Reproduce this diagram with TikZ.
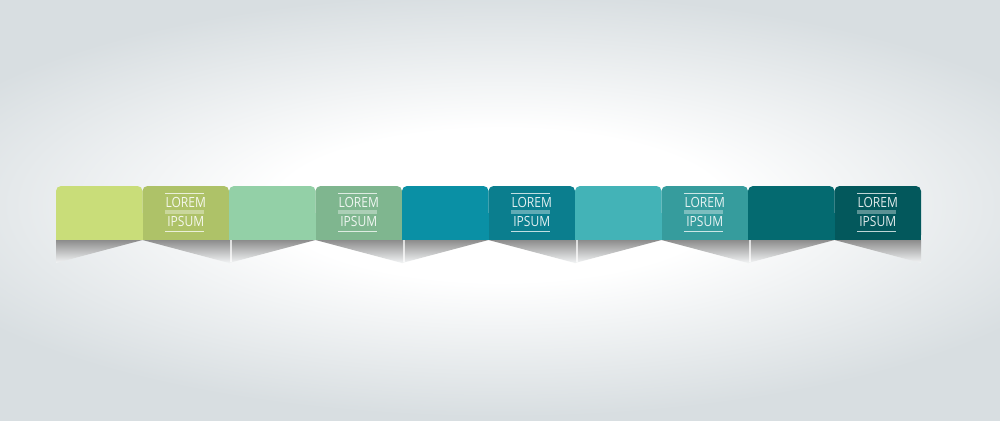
\documentclass[tikz,border=0pt]{standalone}
\usepackage{fontspec}
\setmainfont{Open Sans}
\newfontfamily\tabfont[FakeStretch=0.86]{Open Sans}
\usepackage{xcolor}
\usetikzlibrary{positioning,calc}
\definecolor{bgray}{HTML}{D8DEE1}
\definecolor{tabA}{HTML}{C9DD79}
\definecolor{tabB}{HTML}{AEC268}
\definecolor{tabC}{HTML}{93D0A7}
\definecolor{tabD}{HTML}{7FB68F}
\definecolor{tabE}{HTML}{0A90A5}
\definecolor{tabF}{HTML}{0B7E8E}
\definecolor{tabG}{HTML}{43B3B7}
\definecolor{tabH}{HTML}{369C9D}
\definecolor{tabI}{HTML}{046A70}
\definecolor{tabJ}{HTML}{03585C}
\pgfdeclareradialshading{glow}{\pgfpoint{0bp}{0bp}}{color(0bp)=(white); color(9bp)=(white); color(25bp)=(bgray); color(50bp)=(bgray)}

\begin{document}
\begin{tikzpicture}[x=1pt,y=-1pt,font=\tabfont\fontsize{14}{14}\selectfont]
\tikzstyle{tab}=[rounded corners=5pt,minimum width=86.5pt,minimum height=54pt,inner sep=0pt,outer sep=0pt]
\tikzstyle{word}=[text=white,text opacity=0.88,inner sep=0pt]
\tikzstyle{rule}=[white,opacity=0.75,line width=0.9pt]
\tikzstyle{bar}=[white,opacity=0.35,line width=4pt]
\tikzstyle{shadow}=[top color=black!45,bottom color=white!70!bgray]
\tikzstyle{gap}=[white,opacity=0.7,line width=2pt]
\useasboundingbox (0,0) rectangle (1000,421);
% background with glow
\fill[bgray] (0,0) rectangle (1000,421);
\begin{scope}
\clip (0,0) rectangle (1000,421);
\shade[shading=glow] (500,205) ellipse [x radius=620,y radius=212];
\end{scope}
% tabs
\coordinate (t0) at (56,213);
\node[tab,fill=tabA,right=0pt of t0] (t1) {};
\node[tab,fill=tabB,right=0pt of t1] (t2) {};
\node[tab,fill=tabC,right=0pt of t2] (t3) {};
\node[tab,fill=tabD,right=0pt of t3] (t4) {};
\node[tab,fill=tabE,right=0pt of t4] (t5) {};
\node[tab,fill=tabF,right=0pt of t5] (t6) {};
\node[tab,fill=tabG,right=0pt of t6] (t7) {};
\node[tab,fill=tabH,right=0pt of t7] (t8) {};
\node[tab,fill=tabI,right=0pt of t8] (t9) {};
\node[tab,fill=tabJ,right=0pt of t9] (t10) {};
% square bottom corners
\foreach \n/\c in {1/tabA,2/tabB,3/tabC,4/tabD,5/tabE,6/tabF,7/tabG,8/tabH,9/tabI,10/tabJ}
  \fill[\c] (t\n.west) rectangle (t\n.south east);
% folded shadows
\foreach \a/\b in {1/2,3/4,5/6,7/8,9/10} {
  \shade[shadow] (t\a.south west) -- (t\a.south east) -- ([yshift=-23pt]t\a.south west) -- cycle;
  \shade[shadow] (t\b.south west) -- (t\b.south east) -- ([yshift=-23pt]t\b.south east) -- cycle;
}
\foreach \n in {2,4,6,8}
  \draw[gap] ([xshift=1.5pt]t\n.south east) -- ++(0,22);
% labels
\foreach \n in {2,4,6,8,10} {
  \node[word,yshift=11pt] (lorem\n) at (t\n) {LOREM};
  \node[word,yshift=-8.5pt] (ipsum\n) at (t\n) {IPSUM};
  \draw[rule] ($(t\n)+(-21,-20)$) -- ++(39,0);
  \draw[bar] ($(t\n)+(-21,-1)$) -- ++(39,0);
  \draw[rule] ($(t\n)+(-21,18)$) -- ++(39,0);
}
\end{tikzpicture}
\end{document}
